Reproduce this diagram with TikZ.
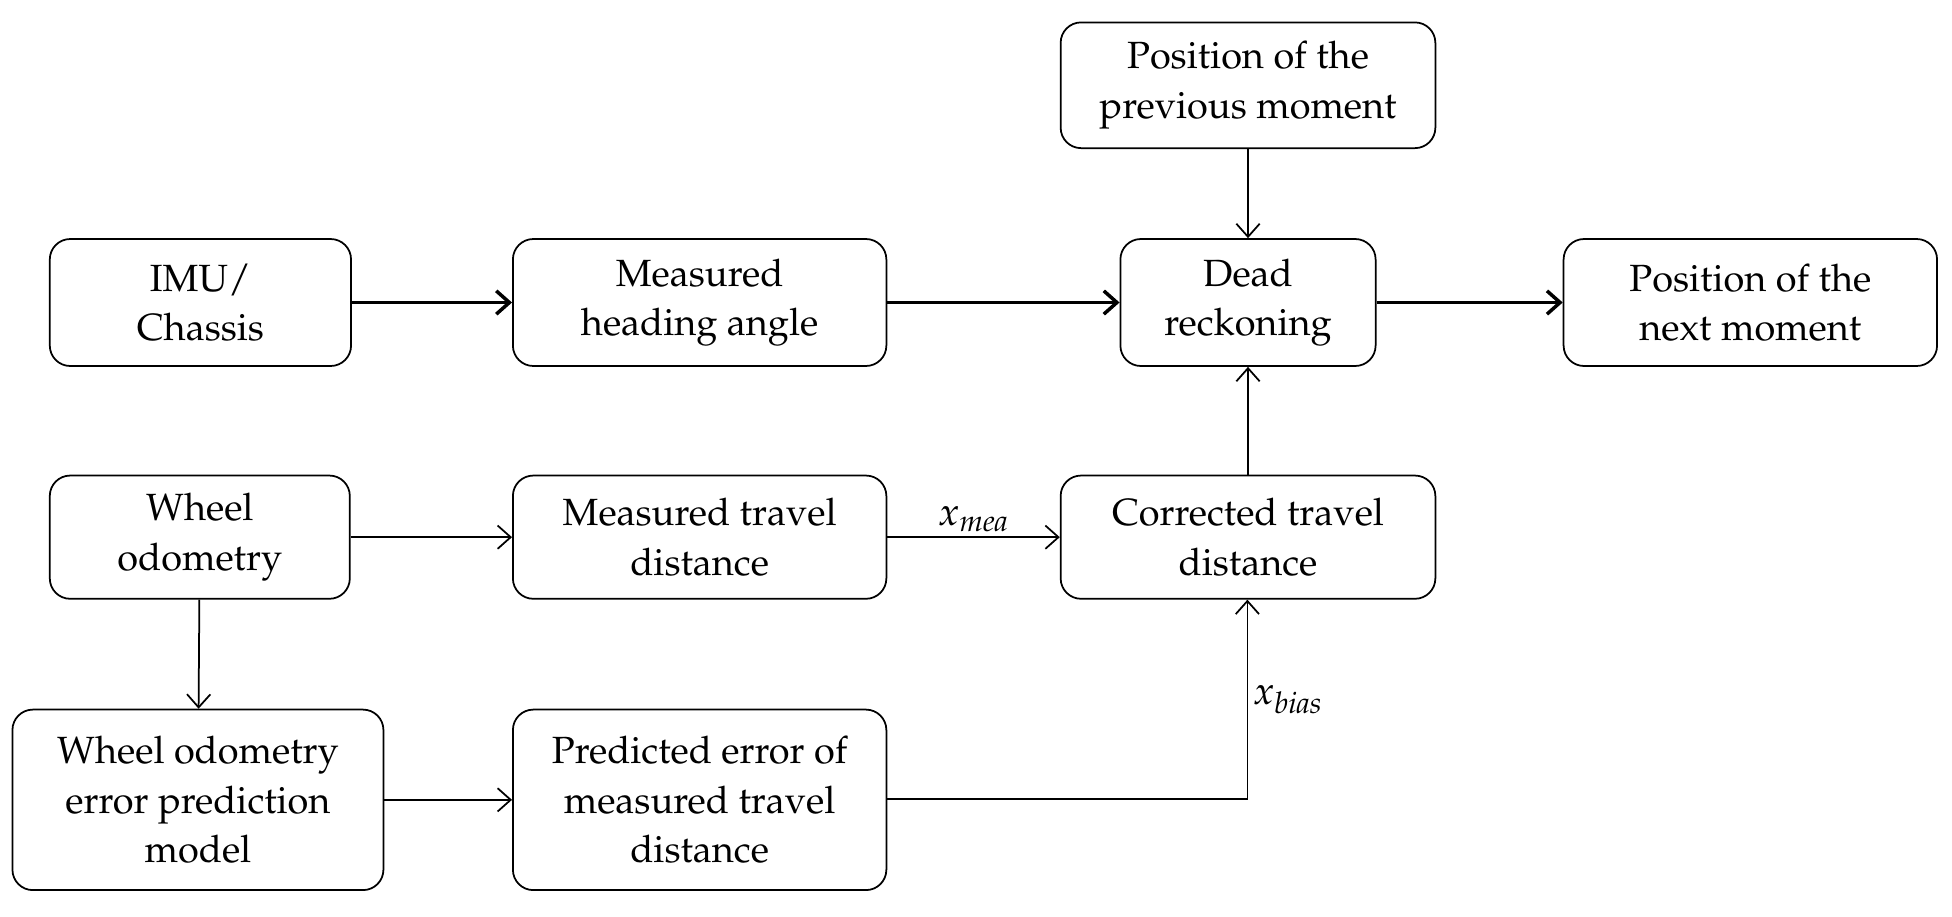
\documentclass[tikz,border=0pt]{standalone}
\usepackage[T1]{fontenc}
\usepackage{mathpazo}
\usetikzlibrary{arrows.meta}
\begin{document}
\begin{tikzpicture}[x=0.03cm,y=-0.03cm,
  box/.style={draw,line width=1.2pt,rounded corners=14pt,align=center,inner sep=0pt,
    font=\fontsize{26}{34}\selectfont},
  arr/.style={line width=1.2pt,-{Straight Barb[length=9pt,width=16pt]}},
  tarr/.style={arr,line width=2.4pt}]
\useasboundingbox (0,0) rectangle (1568,736);
\newcommand{\bx}[6]{\node[box,minimum width={(#4-#2)*0.03cm},minimum height={(#5-#3)*0.03cm}] (#1) at ({(#2+#4)/2},{(#3+#5)/2}) {#6};}
\bx{prev}{852}{18}{1153}{119}{Position of the\\previous moment}
\bx{imu}{40}{192}{282}{294}{IMU/\\Chassis}
\bx{head}{412}{192}{712}{294}{Measured\\heading angle}
\bx{dead}{900}{192}{1105}{294}{Dead\\reckoning}
\bx{next}{1256}{192}{1556}{294}{Position of the\\next moment}
\bx{wheel}{40}{382}{281}{481}{Wheel\\odometry}
\bx{mtd}{412}{382}{712}{481}{Measured travel\\distance}
\bx{corr}{852}{382}{1153}{481}{Corrected travel\\distance}
\bx{model}{10}{570}{308}{715}{Wheel odometry\\error prediction\\model}
\bx{pred}{412}{570}{712}{715}{Predicted error of\\measured travel\\distance}
\draw[tarr] (imu) -- (head);
\draw[tarr] (head) -- (dead);
\draw[tarr] (dead) -- (next);
\draw[arr] (prev) -- (dead);
\draw[arr] (corr.north -| dead.south) -- (dead.south);
\draw[arr] (wheel) -- (mtd);
\draw[arr] (mtd) -- node[above,font=\fontsize{27}{30}\selectfont]{$x_{\mathit{mea}}$} (corr);
\draw[arr] (wheel) -- (model);
\draw[arr] (model.east |- pred) -- (pred);
\coordinate (bend) at (1002,642);
\draw[arr] (pred.east |- bend) -- (bend) -- node[right,pos=0.5,font=\fontsize{27}{30}\selectfont]{$x_{\mathit{bias}}$} (bend |- corr.south);
\end{tikzpicture}
\end{document}
